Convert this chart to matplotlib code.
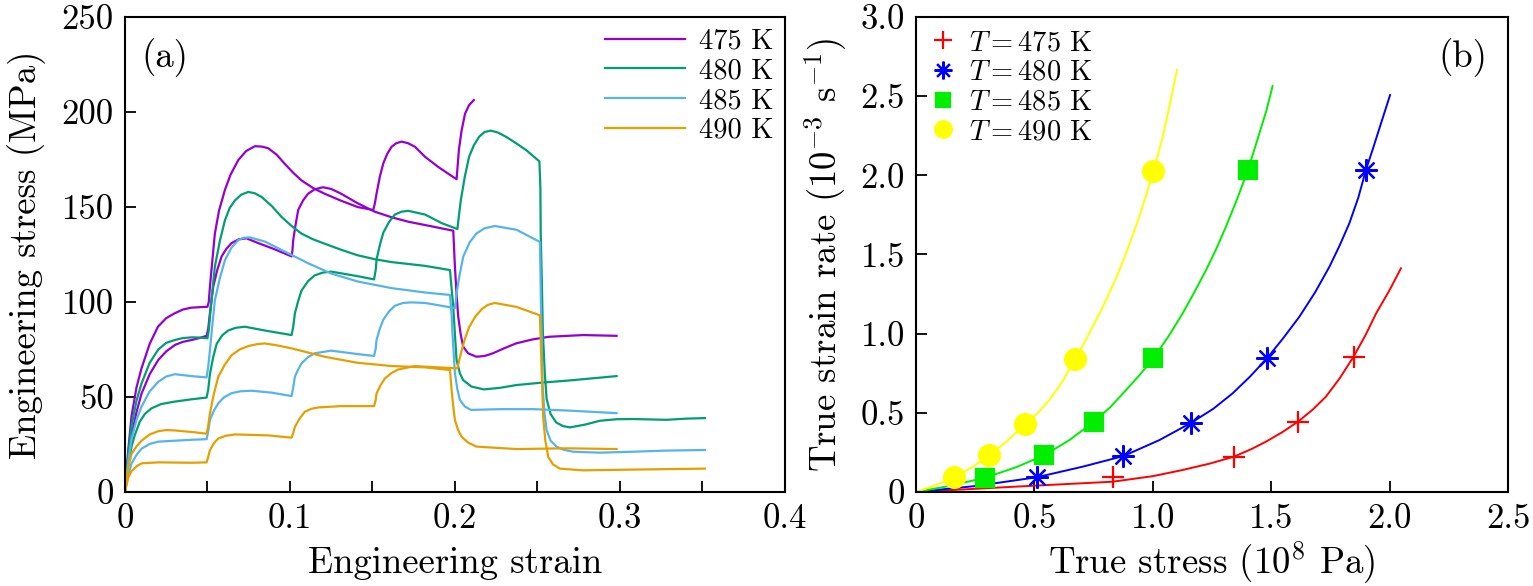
import numpy as np
import matplotlib
matplotlib.use("Agg")
import matplotlib.pyplot as plt

plt.rcParams['font.family'] = 'serif'
plt.rcParams['font.serif'] = ['cmr10']
plt.rcParams['mathtext.fontset'] = 'cm'
plt.rcParams['axes.unicode_minus'] = False

# ---- (a) engineering stress-strain, two tests per temperature ----
temps_a = ['475 K', '480 K', '485 K', '490 K']
colors_a = ['#9400d3', '#009e73', '#56b4e9', '#e69f00']

# 475 K, test 1
s475_1 = [0, 0.002, 0.004, 0.007, 0.01, 0.015, 0.02, 0.025, 0.03, 0.035, 0.04, 0.05,
          0.0508, 0.0515, 0.053, 0.0545, 0.057, 0.0606, 0.064, 0.0687, 0.0735, 0.0788, 0.083,
          0.0869, 0.092, 0.097, 0.102, 0.107, 0.114, 0.121, 0.131, 0.141, 0.1505,
          0.1515, 0.1525, 0.1545, 0.1566, 0.159, 0.1616, 0.1645, 0.1677, 0.1715, 0.1758, 0.1818,
          0.19, 0.201, 0.2015, 0.2024, 0.204, 0.2061, 0.2085, 0.2115]
p475_1 = [0, 22, 40, 55, 65, 78, 87, 91.5, 94, 96, 97, 97.5,
          100, 108, 122, 136, 148, 159, 167, 174.7, 179.5, 182, 181.8,
          180.9, 177.5, 172.6, 168, 164, 160, 157, 153.3, 150, 148.4,
          152, 157, 166, 173, 178, 181.7, 183.6, 184.4, 183.6, 181.7, 176.5,
          171, 164.6, 170, 180, 190, 199, 203.5, 206.3]
# 475 K, test 2
s475_2 = [0, 0.002, 0.004, 0.007, 0.0101, 0.015, 0.0202, 0.025, 0.0303, 0.035, 0.0404, 0.045, 0.0495,
          0.0505, 0.0515, 0.0525, 0.0535, 0.056, 0.0586, 0.0615, 0.0646, 0.069, 0.0737, 0.0808, 0.09,
          0.101, 0.1015, 0.102, 0.1035, 0.105, 0.108, 0.111, 0.115, 0.120, 0.125, 0.131, 0.141,
          0.1515, 0.162, 0.172, 0.186, 0.199, 0.1995, 0.2, 0.201, 0.202, 0.2035, 0.205, 0.208,
          0.213, 0.218, 0.223, 0.23, 0.237, 0.247, 0.257, 0.2778, 0.298]
p475_2 = [0, 18, 30, 42, 51.9, 62, 69.5, 74, 77.4, 79, 80, 81, 82.2,
          86, 94, 101, 108, 117, 124, 128, 131, 133, 133.5, 131, 128,
          124, 127, 132.6, 141, 148.4, 153.5, 157, 159.3, 160.4, 159.5, 157, 152,
          147.5, 144.5, 142.2, 139.8, 137.5, 128, 118.6, 104, 92.3, 83, 76.5, 73,
          71.2, 71.6, 73, 75.7, 78.2, 80.3, 81.7, 82.6, 82.2]
# 480 K, test 1
s480_1 = [0, 0.002, 0.004, 0.007, 0.01, 0.015, 0.0202, 0.025, 0.0303, 0.035, 0.0404, 0.045, 0.050,
          0.0508, 0.0515, 0.053, 0.0545, 0.0575, 0.0606, 0.0635, 0.0667, 0.0705, 0.0747, 0.0785,
          0.0828, 0.089, 0.095, 0.101, 0.107, 0.114, 0.121, 0.131, 0.141, 0.1516, 0.1616, 0.172,
          0.182, 0.197, 0.198, 0.199, 0.2, 0.201, 0.203, 0.205, 0.21, 0.2175, 0.227, 0.2374,
          0.253, 0.268, 0.283, 0.298]
p480_1 = [0, 20, 35, 48, 57, 68, 75, 78.5, 80, 81, 81.4, 81.3, 80.9,
          85, 92, 106, 118.6, 132, 143, 149.5, 153.5, 156.5, 157.9, 157.3,
          155.3, 150.5, 144.7, 140, 136, 133, 130.7, 127.5, 124.6, 122.5, 121, 120,
          119, 116.8, 107, 97.6, 83, 69.5, 62.5, 58.9, 55.5, 54, 54.8, 56.3,
          57.6, 58.6, 59.8, 61]
# 480 K, test 2
s480_2 = [0, 0.002, 0.004, 0.006, 0.009, 0.012, 0.016, 0.022, 0.0303, 0.0404, 0.0495,
          0.0505, 0.0515, 0.0535, 0.0556, 0.059, 0.0626, 0.067, 0.0727, 0.0848, 0.101,
          0.102, 0.103, 0.105, 0.107, 0.111, 0.115, 0.12, 0.125, 0.141, 0.151,
          0.152, 0.1525, 0.1545, 0.1566, 0.16, 0.1636, 0.1675, 0.1717, 0.182, 0.192, 0.2015,
          0.2025, 0.2036, 0.206, 0.2086, 0.2115, 0.2147, 0.218, 0.2218, 0.226, 0.2309, 0.237,
          0.2431, 0.2512, 0.2518, 0.252, 0.2527, 0.2533, 0.2545, 0.2556, 0.258, 0.2614, 0.2655,
          0.2697, 0.279, 0.2879, 0.298, 0.308, 0.3283, 0.34, 0.3515]
p480_2 = [0, 14, 24, 30, 37, 41, 44, 46.3, 47.6, 48.8, 49.7,
          54, 62, 71, 78, 82.5, 85, 86.4, 87, 85, 82.6,
          87, 94, 100.5, 106, 111, 114, 115.5, 116, 113.6, 111.9,
          117, 122.4, 130, 136.5, 142, 146, 147.5, 148, 146, 141.5, 138.4,
          146, 153.7, 166, 176.5, 182.5, 187, 189.5, 190.2, 189.2, 187, 183.6,
          180, 174, 160, 136, 110, 84, 62, 48.9, 41, 36.6, 34.7,
          34, 35.5, 37.5, 38.3, 38.4, 38, 38.6, 38.9]
# 485 K, test 1
s485_1 = [0, 0.002, 0.004, 0.007, 0.0101, 0.015, 0.0202, 0.025, 0.0303, 0.0404, 0.0495,
          0.0505, 0.0515, 0.053, 0.0545, 0.0575, 0.0606, 0.0645, 0.0687, 0.072, 0.0758, 0.0848,
          0.097, 0.111, 0.125, 0.141, 0.1616, 0.182, 0.197, 0.198, 0.1985, 0.2, 0.2015, 0.203,
          0.206, 0.2097, 0.2273, 0.2475, 0.2677, 0.283, 0.298]
p485_1 = [0, 16, 28, 38, 45, 53, 58, 60.8, 62, 61, 60.3,
          66, 74.6, 88, 100.9, 112.5, 122, 128.5, 132.6, 133.8, 134, 131.8,
          126.5, 120.4, 115, 110.8, 107.3, 105, 103.7, 93, 83.5, 62.5, 54, 48.5,
          45, 43.2, 43.6, 43.6, 42.9, 42.2, 41.5]
# 485 K, test 2
s485_2 = [0, 0.002, 0.004, 0.007, 0.0101, 0.015, 0.0202, 0.0303, 0.0404, 0.0495,
          0.0505, 0.0515, 0.054, 0.0566, 0.06, 0.0646, 0.07, 0.0768, 0.0889, 0.101,
          0.102, 0.103, 0.105, 0.107, 0.111, 0.115, 0.125, 0.141, 0.151,
          0.152, 0.1525, 0.1545, 0.1566, 0.16, 0.1636, 0.1685, 0.1737, 0.182, 0.2,
          0.2005, 0.201, 0.203, 0.2051, 0.209, 0.2131, 0.218, 0.2242, 0.2374, 0.2515,
          0.2518, 0.2521, 0.2526, 0.2531, 0.2542, 0.2556, 0.258, 0.2616, 0.266, 0.2717,
          0.2879, 0.308, 0.3283, 0.3515]
p485_2 = [0, 9, 15, 19.5, 22.8, 25.3, 26.5, 27, 27.5, 27.8,
          32, 37.9, 43, 46.7, 49.8, 52, 53, 53.3, 52.3, 50.5,
          55, 60.7, 64.5, 67.7, 71, 73, 74.4, 72.6, 71.6,
          75.5, 80, 86, 90.7, 95, 98, 99.5, 99.8, 99.5, 96.8,
          100, 104.8, 115, 124, 131.5, 136.1, 138.8, 140, 138, 131.6,
          118, 101, 80, 57, 42, 32.6, 27, 23.9, 22.2, 21.2,
          20.7, 21.2, 21.8, 22.1]
# 490 K, test 1
s490_1 = [0, 0.002, 0.004, 0.007, 0.0101, 0.015, 0.0202, 0.025, 0.0303, 0.0404, 0.0495,
          0.0505, 0.0515, 0.054, 0.0566, 0.0605, 0.0646, 0.0695, 0.0747, 0.08, 0.0848, 0.092,
          0.101, 0.121, 0.141, 0.1616, 0.182, 0.197, 0.1975, 0.198, 0.199, 0.2, 0.202, 0.204,
          0.208, 0.213, 0.2374, 0.2677, 0.298]
p490_1 = [0, 13, 20, 24, 27, 30.3, 32, 32.6, 32.4, 31.6, 30.7,
          35, 41.4, 52, 60.7, 67, 72, 75, 76.8, 77.8, 78.2, 77.2,
          75.6, 71.2, 68, 66.3, 65.6, 64.2, 59, 53.7, 45, 37.9, 32.5, 29.1,
          26, 23.9, 22.6, 23, 22.6]
# 490 K, test 2
s490_2 = [0, 0.002, 0.004, 0.007, 0.0101, 0.0202, 0.0404, 0.0495,
          0.0505, 0.0515, 0.054, 0.0566, 0.061, 0.0667, 0.0869, 0.101,
          0.102, 0.103, 0.106, 0.109, 0.113, 0.117, 0.131, 0.151,
          0.152, 0.1525, 0.155, 0.1576, 0.1615, 0.1657, 0.1758, 0.1828, 0.2015,
          0.2025, 0.2036, 0.206, 0.2086, 0.2125, 0.2166, 0.22, 0.2242, 0.2374, 0.2515,
          0.252, 0.2525, 0.2535, 0.2548, 0.2566, 0.2595, 0.2636, 0.2778, 0.308, 0.3515]
p490_2 = [0, 7.5, 11, 13.5, 15.1, 15.6, 15.4, 15.6,
          18.5, 22, 25.8, 28.2, 29.6, 30.3, 29.8, 28.6,
          31, 34.3, 38.8, 42.2, 43.8, 44.5, 45.2, 45.2,
          48.5, 51.9, 56.3, 59.8, 62.6, 64.5, 66.3, 65.9, 65.1,
          69, 72.9, 80.5, 86.8, 92.5, 96.5, 98.5, 99.5, 97.4, 93,
          80, 65.8, 39.5, 27, 18.4, 14.5, 12.3, 11.4, 11.8, 12.3]

tests_a = [[(s475_1, p475_1), (s475_2, p475_2)],
           [(s480_1, p480_1), (s480_2, p480_2)],
           [(s485_1, p485_1), (s485_2, p485_2)],
           [(s490_1, p490_1), (s490_2, p490_2)]]

# ---- (b) true strain rate vs true stress ----
temps_b = ['475', '480', '485', '490']
colors_b = ['#ff0000', '#0000ff', '#00ee00', '#ffff00']
markers_b = ['+', (8, 2, 0), 's', 'o']
msizes_b = [16, 16, 13, 15]

# measured points (stress in 1e8 Pa, rate in 1e-3 /s)
pt_x = [[0.83, 1.342, 1.613, 1.848],
        [0.51, 0.876, 1.163, 1.482, 1.90],
        [0.293, 0.542, 0.75, 1.002, 1.402],
        [0.162, 0.31, 0.462, 0.671, 1.002]]
pt_y = [[0.093, 0.223, 0.444, 0.855],
        [0.093, 0.227, 0.438, 0.844, 2.034],
        [0.091, 0.232, 0.442, 0.844, 2.034],
        [0.093, 0.232, 0.43, 0.84, 2.025]]

# fitted curves
fit_x = [[0, 0.422, 0.83, 1.0, 1.126, 1.242, 1.342, 1.415, 1.478, 1.547, 1.613, 1.675, 1.731,
          1.79, 1.848, 1.898, 1.943, 1.998, 2.048],
         [0, 0.253, 0.51, 0.704, 0.876, 1.028, 1.163, 1.255, 1.337, 1.41, 1.482, 1.55, 1.619,
          1.685, 1.746, 1.79, 1.83, 1.868, 1.90, 1.93, 1.957, 2.002],
         [0, 0.141, 0.293, 0.42, 0.542, 0.648, 0.75, 0.82, 0.887, 0.945, 1.002, 1.065, 1.126,
          1.175, 1.225, 1.268, 1.309, 1.356, 1.402, 1.45, 1.48, 1.506],
         [0, 0.0845, 0.162, 0.235, 0.31, 0.385, 0.462, 0.515, 0.563, 0.62, 0.671, 0.71, 0.746,
          0.782, 0.816, 0.852, 0.887, 0.915, 0.943, 0.972, 1.002, 1.022, 1.042, 1.07, 1.102]]
fit_y = [[0, 0.034, 0.065, 0.1, 0.139, 0.18, 0.223, 0.27, 0.318, 0.378, 0.444, 0.52, 0.602,
          0.72, 0.855, 0.99, 1.128, 1.27, 1.413],
         [0, 0.038, 0.093, 0.16, 0.227, 0.328, 0.438, 0.525, 0.623, 0.728, 0.844, 0.97, 1.107,
          1.26, 1.423, 1.56, 1.697, 1.86, 2.034, 2.17, 2.297, 2.507],
         [0, 0.038, 0.0905, 0.155, 0.232, 0.328, 0.442, 0.535, 0.644, 0.74, 0.844, 0.98, 1.128,
          1.26, 1.402, 1.535, 1.676, 1.85, 2.034, 2.265, 2.41, 2.564],
         [0, 0.044, 0.093, 0.155, 0.232, 0.322, 0.43, 0.5, 0.581, 0.7, 0.84, 0.94, 1.044,
          1.148, 1.255, 1.375, 1.507, 1.62, 1.739, 1.875, 2.025, 2.13, 2.244, 2.434, 2.665]]

fig = plt.figure(figsize=(15.33, 5.86), dpi=100)
ax1 = fig.add_axes([0.0815, 0.1604, 0.4305, 0.8106])
ax2 = fig.add_axes([0.5975, 0.1604, 0.3862, 0.8106])

fs = 25     # tick labels
fl = 26.5   # axis labels and panel tags
for i in range(4):
    for j, (s, p) in enumerate(tests_a[i]):
        ax1.plot(s, p, color=colors_a[i], lw=1.6, label=temps_a[i] if j == 0 else None)
ax1.set_xlim(0, 0.4)
ax1.set_ylim(0, 250)
xt = np.arange(0, 0.401, 0.05)
ax1.set_xticks(xt)
ax1.set_xticklabels(['0', '', '0.1', '', '0.2', '', '0.3', '', '0.4'])
ax1.set_yticks([0, 50, 100, 150, 200, 250])
ax1.set_yticklabels(['0', '50', '100', '150', '200', '250'])
ax1.set_xlabel('Engineering strain', fontsize=fl, labelpad=9)
ax1.set_ylabel('Engineering stress (MPa)', fontsize=fl, labelpad=11)
ax1.text(0.025, 0.915, '(a)', transform=ax1.transAxes, fontsize=fl, va='center')
ax1.legend(loc='upper right', frameon=False, fontsize=20.5, handlelength=2.8,
           handletextpad=0.5, labelspacing=0.12, borderaxespad=0.0)

for i in range(4):
    ax2.plot(fit_x[i], fit_y[i], color=colors_b[i], lw=1.4)
    ax2.plot(pt_x[i], pt_y[i], ls='none', marker=markers_b[i], ms=msizes_b[i], color=colors_b[i],
             mew=1.6, label=r'$T=%s$ K' % temps_b[i])
ax2.set_xlim(0, 2.5)
ax2.set_ylim(0, 3.0)
ax2.set_xticks([0, 0.5, 1.0, 1.5, 2.0, 2.5])
ax2.set_xticklabels(['0', '0.5', '1.0', '1.5', '2.0', '2.5'])
ax2.set_yticks([0, 0.5, 1.0, 1.5, 2.0, 2.5, 3.0])
ax2.set_yticklabels(['0', '0.5', '1.0', '1.5', '2.0', '2.5', '3.0'])
ax2.set_xlabel(r'True stress ($10^{8}$ Pa)', fontsize=fl, labelpad=4)
ax2.set_ylabel(r'True strain rate ($10^{-3}$ s$^{-1}$)', fontsize=fl, labelpad=8)
ax2.text(0.965, 0.915, '(b)', transform=ax2.transAxes, fontsize=fl, va='center', ha='right')
ax2.legend(loc='upper left', frameon=False, fontsize=20.5, handlelength=1.0,
           handletextpad=0.4, labelspacing=0.12, borderaxespad=0.05, markerscale=0.8)

for ax in (ax1, ax2):
    ax.tick_params(direction='in', length=8, width=1.3, labelsize=fs, pad=8,
                   top=False, right=False)
    for sp in ax.spines.values():
        sp.set_linewidth(1.5)

fig.savefig('out.png', dpi=100)
